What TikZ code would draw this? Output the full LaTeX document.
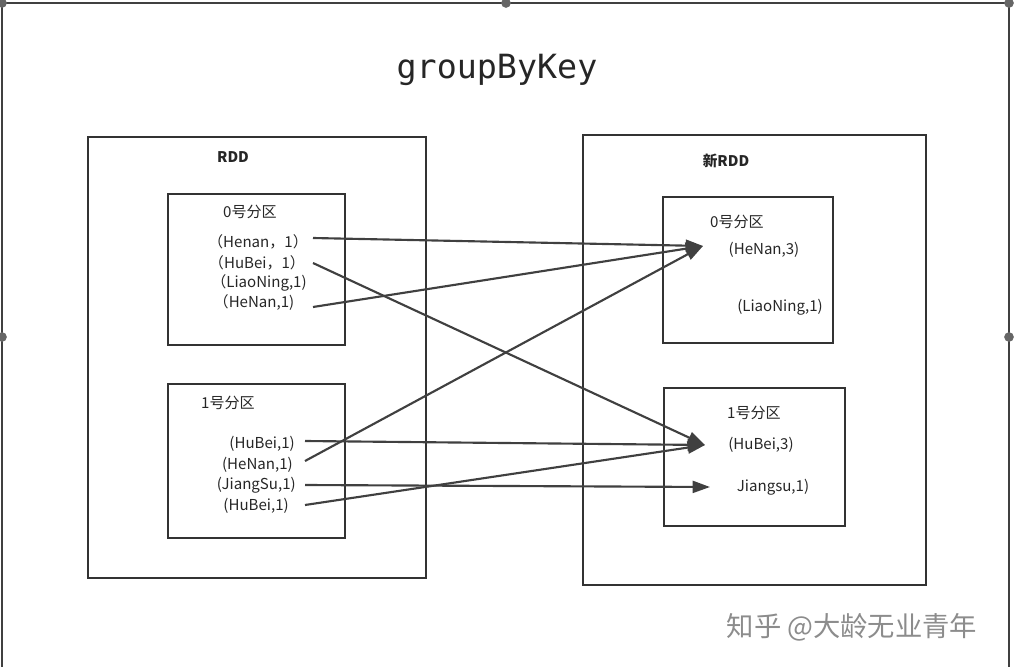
\documentclass[tikz,border=0pt]{standalone}
\usepackage{fontspec}
\setmainfont{Noto Sans CJK SC}
\newfontfamily\monof{DejaVu Sans Mono}
\usetikzlibrary{arrows.meta}
\begin{document}
\begin{tikzpicture}[x=0.75pt,y=-0.75pt,
  box/.style={draw=black!80,line width=1.3pt},
  txt/.style={font=\fontsize{11.3}{13}\selectfont,text=black!85,inner sep=0pt},
  arr/.style={draw=black!75,line width=1.6pt,-{Triangle[length=13pt,width=9pt]}}]
\useasboundingbox (0,0) rectangle (1017,667);
\draw[black!75,line width=1.2pt] (2,667) -- (2,3) -- (1009,3) -- (1009,667);
\foreach \p in {(506,3),(1009,337),(2,337),(2,3),(1009,3)} \draw[fill=white,black!60] \p circle (4.5);
\node[inner sep=0pt,text=black!85] (title) at (497,70) {\monof\fontsize{25}{28}\selectfont groupByKey};
\draw[box] (88,137) rectangle (426,578);
\draw[box] (168,194) rectangle (345,345);
\draw[box] (168,384) rectangle (345,538);
\draw[box] (583,135) rectangle (926,585);
\draw[box] (663,197) rectangle (833,343);
\draw[box] (664,388) rectangle (845,526);
\node[txt,font=\bfseries\fontsize{11}{12}\selectfont] (rdd) at (233,157) {RDD};
\node[txt,font=\bfseries\fontsize{11}{12}\selectfont] (nrdd) at (726,161) {新RDD};
\node[txt] (p0) at (250,212) {0号分区};
\node[txt] (a1) at (258,242) {（Henan，1）};
\node[txt] (a2) at (257,263) {（HuBei，1）};
\node[txt] (a3) at (259,283) {（LiaoNing,1)};
\node[txt] (a4) at (254,303) {（HeNan,1)};
\node[txt] (p1) at (228,403) {1号分区};
\node[txt,anchor=east] (b1) at (295,444) {(HuBei,1)};
\node[txt,anchor=east] (b2) at (293,465) {(HeNan,1)};
\node[txt,anchor=east] (b3) at (296,485) {(JiangSu,1)};
\node[txt,anchor=east] (b4) at (289,506) {(HuBei,1)};
\node[txt] (q0) at (737,222) {0号分区};
\node[txt] (c1) at (764,250) {(HeNan,3)};
\node[txt] (c2) at (780,307) {(LiaoNing,1)};
\node[txt] (q1) at (754,413) {1号分区};
\node[txt] (d1) at (761,445) {(HuBei,3)};
\node[txt] (d2) at (773,487) {Jiangsu,1)};
\coordinate (s1) at (313,238); \coordinate (s2) at (313,263); \coordinate (s3) at (313,307);
\coordinate (u1) at (305,441); \coordinate (u2) at (305,461); \coordinate (u3) at (305,485); \coordinate (u4) at (305,505);
\coordinate (t0) at (703,246); \coordinate (t1) at (705,445); \coordinate (t2) at (710,487);
\draw[arr] (s1) -- (t0);
\draw[arr] (s2) -- (t1);
\draw[arr] (s3) -- (t0);
\draw[arr] (u1) -- (t1);
\draw[arr] (u2) -- (t0);
\draw[arr] (u3) -- (t2);
\draw[arr] (u4) -- (t1);
\node[inner sep=0pt,text=black!45,font=\fontsize{20.5}{24}\selectfont] (wm) at (852,627) {知乎 @大龄无业青年};
\end{tikzpicture}
\end{document}
